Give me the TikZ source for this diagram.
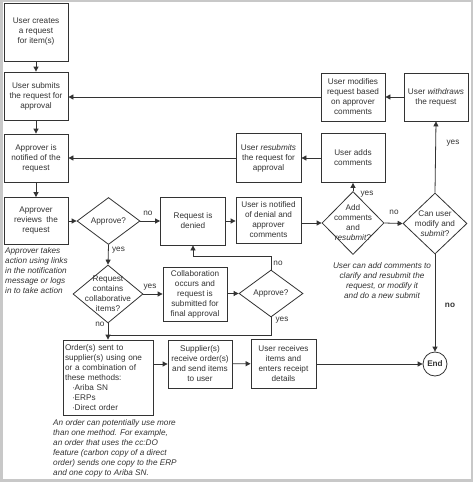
\documentclass[tikz,border=0pt]{standalone}
\usepackage{fontspec}
\setmainfont{Liberation Sans}
\usetikzlibrary{shapes.geometric,arrows.meta,calc}
\definecolor{ink}{HTML}{333333}
\definecolor{framec}{HTML}{C8C8C8}
\begin{document}
\begin{tikzpicture}[x=1pt,y=-1pt,
  font=\fontsize{8.2}{10}\selectfont,
  box/.style={draw=ink,line width=0.8pt,fill=white,text=ink,align=center,inner sep=1pt},
  dia/.style={draw=ink,line width=0.8pt,diamond,inner sep=0pt,fill=white},
  arr/.style={draw=ink,line width=0.8pt,-{Triangle[length=5pt,width=5pt]}},
  ln/.style={draw=ink,line width=0.8pt},
  lab/.style={text=ink,inner sep=0pt},
  note/.style={text=ink,font=\fontsize{8.2}{10}\selectfont\itshape,inner sep=0pt}]
\useasboundingbox (0,0) rectangle (474,482);
\draw[framec,line width=2.5pt] (1.5,1) rectangle (472,480.5);

% boxes
\node[box,minimum width=64pt,minimum height=58pt] (n1) at (36,32) {User creates\\a request\\for item(s)};
\node[box,minimum width=64pt,minimum height=48pt] (n2) at (36,96) {User submits\\the request for\\approval};
\node[box,minimum width=64pt,minimum height=48pt] (n3) at (36,158) {Approver is\\notified of the\\request};
\node[box,minimum width=64pt,minimum height=47pt] (n4) at (36,221) {Approver\\reviews\ \ the\\request};
\node[box,minimum width=65pt,minimum height=48pt] (n5) at (193,221) {Request is\\denied};
\node[box,minimum width=65pt,minimum height=46pt] (n6) at (268.5,220) {User is notified\\of denial and\\approver\\comments};
\node[box,minimum width=64pt,minimum height=49pt] (n7) at (353,158) {User adds\\comments};
\node[box,minimum width=65pt,minimum height=49pt] (n8) at (268.5,158) {User \emph{resubmits}\\the request for\\approval};
\node[box,minimum width=64pt,minimum height=48pt] (n9) at (353,97) {User modifies\\request based\\on approver\\comments};
\node[box,minimum width=64pt,minimum height=48pt] (n10) at (436,97) {User \emph{withdraws}\\the request};
\node[box,minimum width=64pt,minimum height=54pt] (n11) at (195,294) {Collaboration\\occurs and\\request is\\submitted for\\final approval};
\node[box,minimum width=90pt,minimum height=75pt,text width=86pt,align=left,inner sep=2pt] (n12) at (108,377.5) {Order(s) sent to\\supplier(s) using one\\or a combination of\\these methods:\\\hspace*{7pt}·Ariba SN\\\hspace*{7pt}·ERPs\\\hspace*{7pt}·Direct order};
\node[box,minimum width=64pt,minimum height=48pt] (n13) at (200,364) {Supplier(s)\\receive order(s)\\and send items\\to user};
\node[box,minimum width=65pt,minimum height=49pt] (n14) at (283.5,363.5) {User receives\\items and\\enters receipt\\details};
\node[draw=ink,line width=0.8pt,circle,minimum size=24pt,inner sep=0pt,text=ink,font=\fontsize{8.2}{10}\selectfont\bfseries] (end) at (435,364) {End};

% diamonds
\node[dia,minimum width=63pt,minimum height=47pt] (d1) at (108.5,221) {};
\node[lab,align=center] (d1t) at (d1) {Approve?};
\node[dia,minimum width=62pt,minimum height=63pt] (d2) at (353,223) {};
\node[lab,align=center] (d2t) at (d2) {Add\\comments\\and\\\emph{resubmit}?};
\node[dia,minimum width=64pt,minimum height=61pt] (d3) at (435,223.5) {};
\node[lab,align=center] (d3t) at (d3) {Can user\\modify and\\\emph{submit}?};
\node[dia,minimum width=70pt,minimum height=58pt] (d4) at (108,294) {};
\node[lab,align=center] (d4t) at (d4) {Request\\contains\\collaborative\\items?};
\node[dia,minimum width=64pt,minimum height=47pt] (d5) at (271,293.5) {};
\node[lab,align=center] (d5t) at (d5) {Approve?};

% connectors
\draw[arr] (n1) -- (n2);
\draw[arr] (n2) -- (n3);
\draw[arr] (n3) -- (n4);
\draw[arr] (n4) -- (d1);
\draw[arr] (d1) -- (n5);
\draw[arr] (n5.east) -- (n5.east -| n6.west);
\draw[arr] (n6.east |- d2.west) -- (d2.west);
\draw[arr] (d2.north) -- (n7.south);
\draw[arr] (d2.east) -- (d3.west);
\draw[arr] (d3.north) -- (n10.south);
\draw[arr] (n10) -- (n9);
\draw[arr] (n9.west) -- (n9.west -| n2.east);
\draw[arr] (n7) -- (n8);
\draw[arr] (n8.west) -- (n8.west -| n3.east);
\draw[arr] (d1.south) -- (d4.north);
\draw[arr] (d4.east) -- (n11.west |- d4.east);
\draw[arr] (n11.east |- d5.west) -- (d5.west);
\draw[arr] (d5.north) -- ++(0,-13) -| (n5.south);
\coordinate (j) at (108,335);
\draw[ln] (d5.south) |- (j);
\draw[arr] (d4.south) -- (n12.north);
\draw[arr] (n12.east |- n13.west) -- (n13.west);
\draw[arr] (n13) -- (n14);
\draw[arr] (n14.east |- end.west) -- (end.west);
\draw[arr] (d3.south) -- (end.north);

% branch labels
\node[lab] (l1) at (148,213) {no};
\node[lab] (l2) at (118.5,250) {yes};
\node[lab] (l3) at (367,194) {yes};
\node[lab] (l4) at (394,212) {no};
\node[lab] (l5) at (453,143) {yes};
\node[lab,font=\fontsize{8.2}{10}\selectfont\bfseries] (l6) at (450,305) {no};
\node[lab] (l7) at (150,287) {yes};
\node[lab] (l8) at (100,324) {no};
\node[lab] (l9) at (278,263) {no};
\node[lab] (l10) at (282,320) {yes};

% notes
\node[note,align=left,anchor=north west] (a1) at (5,247) {Approver takes\\action using links\\in the notification\\message or logs\\in to take action};
\node[note,align=center] (a2) at (382,281) {User can add comments to\\clarify and resubmit the\\request, or modify it\\and do a new submit};
\node[note,align=left,anchor=north west] (a3) at (53,419) {An order can potentially use more\\than one method. For example,\\an order that uses the cc:DO\\feature (carbon copy of a direct\\order) sends one copy to the ERP\\and one copy to Ariba SN.};
\end{tikzpicture}
\end{document}
